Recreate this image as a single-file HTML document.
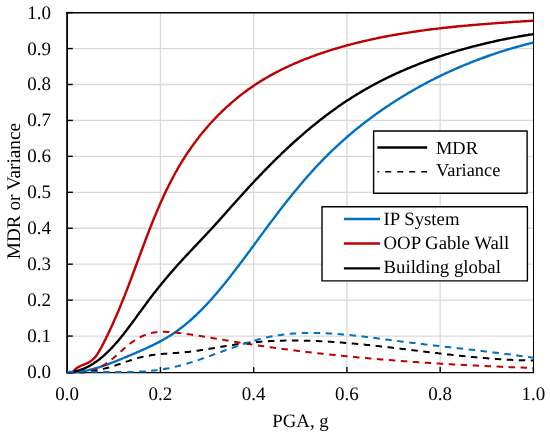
<!DOCTYPE html>
<html><head><meta charset="utf-8"><style>
html,body{margin:0;padding:0;background:#fff;}
body{width:550px;height:437px;overflow:hidden;}
svg{display:block;}
text{text-rendering:geometricPrecision;font-family:"Liberation Serif","Times New Roman",serif;font-size:18.8px;fill:#000;}
.tk{font-size:19px;}
.l1{font-size:18.4px;}
</style></head><body>
<svg width="550" height="437" viewBox="0 0 550 437">
<rect width="550" height="437" fill="#fff"/>
<g stroke="#d9d9d9" stroke-width="1.3" fill="none">
<line x1="67.2" y1="336.06" x2="533.4" y2="336.06"/>
<line x1="67.2" y1="300.12" x2="533.4" y2="300.12"/>
<line x1="67.2" y1="264.18" x2="533.4" y2="264.18"/>
<line x1="67.2" y1="228.24" x2="533.4" y2="228.24"/>
<line x1="67.2" y1="192.30" x2="533.4" y2="192.30"/>
<line x1="67.2" y1="156.36" x2="533.4" y2="156.36"/>
<line x1="67.2" y1="120.42" x2="533.4" y2="120.42"/>
<line x1="67.2" y1="84.48" x2="533.4" y2="84.48"/>
<line x1="67.2" y1="48.54" x2="533.4" y2="48.54"/>
<line x1="160.44" y1="12.6" x2="160.44" y2="372.0"/>
<line x1="253.68" y1="12.6" x2="253.68" y2="372.0"/>
<line x1="346.92" y1="12.6" x2="346.92" y2="372.0"/>
<line x1="440.16" y1="12.6" x2="440.16" y2="372.0"/>
</g>

<g stroke="#000" stroke-width="1.6" fill="none">
<line x1="66.19999999999999" y1="12.7" x2="534.0" y2="12.7" stroke-width="1.5"/>
<line x1="533.5" y1="11.95" x2="533.5" y2="373.20000000000005" stroke-width="1.0"/>
<line x1="67.1" y1="11.95" x2="67.1" y2="373.20000000000005" stroke-width="1.8"/>
<line x1="66.19999999999999" y1="372.6" x2="534.0" y2="372.6" stroke-width="1.3"/>
<line x1="67.1" y1="372.00" x2="72.8" y2="372.00" stroke-width="1.4"/>
<line x1="67.1" y1="336.06" x2="72.8" y2="336.06" stroke-width="1.4"/>
<line x1="67.1" y1="300.12" x2="72.8" y2="300.12" stroke-width="1.4"/>
<line x1="67.1" y1="264.18" x2="72.8" y2="264.18" stroke-width="1.4"/>
<line x1="67.1" y1="228.24" x2="72.8" y2="228.24" stroke-width="1.4"/>
<line x1="67.1" y1="192.30" x2="72.8" y2="192.30" stroke-width="1.4"/>
<line x1="67.1" y1="156.36" x2="72.8" y2="156.36" stroke-width="1.4"/>
<line x1="67.1" y1="120.42" x2="72.8" y2="120.42" stroke-width="1.4"/>
<line x1="67.1" y1="84.48" x2="72.8" y2="84.48" stroke-width="1.4"/>
<line x1="67.1" y1="48.54" x2="72.8" y2="48.54" stroke-width="1.4"/>
<line x1="67.1" y1="12.60" x2="72.8" y2="12.60" stroke-width="1.4"/>
<line x1="67.20" y1="372.6" x2="67.20" y2="367.1" stroke-width="1.4"/>
<line x1="160.44" y1="372.6" x2="160.44" y2="367.1" stroke-width="1.4"/>
<line x1="253.68" y1="372.6" x2="253.68" y2="367.1" stroke-width="1.4"/>
<line x1="346.92" y1="372.6" x2="346.92" y2="367.1" stroke-width="1.4"/>
<line x1="440.16" y1="372.6" x2="440.16" y2="367.1" stroke-width="1.4"/>
<line x1="533.40" y1="372.6" x2="533.40" y2="367.1" stroke-width="1.4"/>
</g>
<g fill="none" stroke-linejoin="round">
<path d="M67.2 372.2 L68.7 372.2 L70.2 372.2 L71.7 372.2 L73.2 372.2 L74.7 372.2 L76.1 372.1 L77.6 372.0 L79.1 371.8 L80.5 371.6 L82.0 371.4 L83.4 371.1 L84.8 370.9 L86.3 370.6 L87.7 370.3 L89.1 369.9 L90.5 369.6 L92.0 369.3 L93.4 368.9 L94.8 368.5 L96.2 368.1 L97.6 367.7 L99.0 367.3 L100.4 366.8 L101.7 366.4 L103.1 365.9 L104.5 365.4 L105.9 365.0 L107.3 364.5 L108.7 364.0 L110.0 363.4 L111.4 362.9 L112.8 362.4 L114.1 361.9 L115.5 361.3 L116.9 360.8 L118.3 360.2 L119.6 359.7 L121.0 359.1 L122.4 358.5 L123.7 358.0 L125.1 357.4 L126.5 356.8 L127.8 356.2 L129.2 355.7 L130.6 355.1 L131.9 354.5 L133.3 353.9 L134.7 353.4 L136.0 352.8 L137.4 352.2 L138.8 351.6 L140.1 351.0 L141.5 350.4 L142.9 349.8 L144.2 349.2 L145.6 348.6 L146.9 348.0 L148.3 347.3 L149.6 346.7 L150.9 346.1 L152.3 345.4 L153.6 344.8 L154.9 344.1 L156.2 343.4 L157.6 342.8 L158.9 342.1 L160.2 341.4 L161.5 340.7 L162.7 340.0 L164.0 339.2 L165.3 338.5 L166.6 337.8 L167.8 337.0 L169.1 336.2 L170.3 335.4 L171.5 334.7 L172.8 333.9 L174.0 333.0 L175.2 332.2 L176.4 331.4 L177.6 330.5 L178.8 329.7 L179.9 328.8 L181.1 327.9 L182.3 327.0 L183.4 326.1 L184.6 325.2 L185.7 324.3 L186.8 323.3 L187.9 322.4 L189.1 321.4 L190.2 320.5 L191.3 319.5 L192.4 318.5 L193.4 317.5 L194.5 316.5 L195.6 315.5 L196.7 314.5 L197.7 313.5 L198.8 312.5 L199.8 311.4 L200.9 310.4 L201.9 309.4 L202.9 308.3 L204.0 307.2 L205.0 306.2 L206.0 305.1 L207.0 304.0 L208.0 302.9 L209.0 301.9 L210.0 300.8 L211.0 299.7 L212.0 298.6 L213.0 297.5 L213.9 296.3 L214.9 295.2 L215.9 294.1 L216.8 293.0 L217.8 291.9 L218.7 290.7 L219.7 289.6 L220.6 288.5 L221.6 287.3 L222.5 286.2 L223.5 285.0 L224.4 283.9 L225.3 282.7 L226.2 281.6 L227.2 280.4 L228.1 279.3 L229.0 278.1 L229.9 277.0 L230.8 275.8 L231.7 274.6 L232.6 273.5 L233.5 272.3 L234.4 271.1 L235.3 270.0 L236.2 268.8 L237.1 267.6 L238.0 266.5 L238.9 265.3 L239.8 264.1 L240.7 262.9 L241.6 261.7 L242.5 260.6 L243.3 259.4 L244.2 258.2 L245.1 257.0 L246.0 255.8 L246.9 254.7 L247.7 253.5 L248.6 252.3 L249.5 251.1 L250.4 249.9 L251.2 248.7 L252.1 247.5 L253.0 246.3 L253.9 245.2 L254.7 244.0 L255.6 242.8 L256.5 241.6 L257.3 240.4 L258.2 239.2 L259.1 238.0 L260.0 236.8 L260.8 235.6 L261.7 234.4 L262.6 233.3 L263.5 232.1 L264.3 230.9 L265.2 229.7 L266.1 228.5 L267.0 227.3 L267.9 226.1 L268.7 225.0 L269.6 223.8 L270.5 222.6 L271.4 221.4 L272.3 220.2 L273.2 219.0 L274.1 217.9 L275.0 216.7 L275.9 215.5 L276.7 214.3 L277.6 213.2 L278.5 212.0 L279.4 210.8 L280.3 209.6 L281.2 208.5 L282.1 207.3 L283.1 206.1 L284.0 205.0 L284.9 203.8 L285.8 202.6 L286.7 201.5 L287.6 200.3 L288.5 199.2 L289.5 198.0 L290.4 196.9 L291.3 195.7 L292.2 194.6 L293.2 193.4 L294.1 192.3 L295.0 191.1 L296.0 190.0 L296.9 188.9 L297.9 187.7 L298.8 186.6 L299.8 185.5 L300.7 184.3 L301.7 183.2 L302.6 182.1 L303.6 181.0 L304.5 179.8 L305.5 178.7 L306.5 177.6 L307.4 176.5 L308.4 175.4 L309.4 174.3 L310.4 173.2 L311.4 172.1 L312.4 171.0 L313.4 169.9 L314.3 168.8 L315.3 167.7 L316.3 166.7 L317.4 165.6 L318.4 164.5 L319.4 163.4 L320.4 162.4 L321.4 161.3 L322.4 160.3 L323.5 159.2 L324.5 158.1 L325.5 157.1 L326.6 156.1 L327.6 155.0 L328.7 154.0 L329.7 152.9 L330.8 151.9 L331.8 150.9 L332.9 149.9 L334.0 148.9 L335.1 147.8 L336.1 146.8 L337.2 145.8 L338.3 144.8 L339.4 143.8 L340.5 142.8 L341.6 141.9 L342.7 140.9 L343.8 139.9 L344.9 138.9 L346.0 137.9 L347.1 137.0 L348.2 136.0 L349.3 135.0 L350.5 134.1 L351.6 133.1 L352.7 132.2 L353.9 131.2 L355.0 130.3 L356.1 129.4 L357.3 128.4 L358.4 127.5 L359.6 126.6 L360.7 125.7 L361.9 124.8 L363.1 123.8 L364.2 122.9 L365.4 122.0 L366.6 121.1 L367.7 120.2 L368.9 119.4 L370.1 118.5 L371.3 117.6 L372.5 116.7 L373.7 115.8 L374.9 115.0 L376.0 114.1 L377.2 113.2 L378.4 112.4 L379.7 111.5 L380.9 110.7 L382.1 109.8 L383.3 109.0 L384.5 108.2 L385.7 107.3 L386.9 106.5 L388.2 105.7 L389.4 104.9 L390.6 104.1 L391.9 103.3 L393.1 102.5 L394.3 101.7 L395.6 100.9 L396.8 100.1 L398.1 99.3 L399.3 98.5 L400.6 97.7 L401.8 96.9 L403.1 96.2 L404.3 95.4 L405.6 94.7 L406.9 93.9 L408.1 93.1 L409.4 92.4 L410.7 91.7 L411.9 90.9 L413.2 90.2 L414.5 89.5 L415.8 88.7 L417.1 88.0 L418.4 87.3 L419.6 86.6 L420.9 85.9 L422.2 85.2 L423.5 84.5 L424.8 83.8 L426.1 83.1 L427.4 82.4 L428.7 81.7 L430.0 81.0 L431.3 80.4 L432.7 79.7 L434.0 79.0 L435.3 78.4 L436.6 77.7 L437.9 77.1 L439.2 76.4 L440.6 75.8 L441.9 75.1 L443.2 74.5 L444.6 73.9 L445.9 73.2 L447.2 72.6 L448.6 72.0 L449.9 71.4 L451.2 70.8 L452.6 70.2 L453.9 69.6 L455.3 69.0 L456.6 68.4 L458.0 67.8 L459.3 67.2 L460.7 66.6 L462.0 66.1 L463.4 65.5 L464.8 64.9 L466.1 64.4 L467.5 63.8 L468.9 63.3 L470.2 62.7 L471.6 62.2 L473.0 61.6 L474.3 61.1 L475.7 60.6 L477.1 60.0 L478.5 59.5 L479.9 59.0 L481.2 58.5 L482.6 58.0 L484.0 57.5 L485.4 57.0 L486.8 56.5 L488.2 56.0 L489.6 55.5 L491.0 55.0 L492.3 54.5 L493.7 54.1 L495.1 53.6 L496.5 53.1 L497.9 52.7 L499.3 52.2 L500.7 51.7 L502.1 51.3 L503.6 50.9 L505.0 50.4 L506.4 50.0 L507.8 49.5 L509.2 49.1 L510.6 48.7 L512.0 48.3 L513.4 47.9 L514.9 47.5 L516.3 47.0 L517.7 46.6 L519.1 46.3 L520.5 45.9 L522.0 45.5 L523.4 45.1 L524.8 44.7 L526.2 44.3 L527.7 44.0 L529.1 43.6 L530.5 43.2 L532.0 42.9 L533.4 42.5" stroke="#0070c0" stroke-width="2.4"/>
<path d="M72.9 372.2 L73.8 370.9 L74.9 369.7 L76.1 368.6 L77.3 367.7 L78.7 366.9 L80.1 366.2 L81.6 365.5 L83.1 364.9 L84.6 364.3 L86.1 363.7 L87.5 363.1 L88.9 362.3 L90.3 361.5 L91.5 360.6 L92.7 359.6 L93.8 358.5 L94.9 357.4 L95.9 356.2 L96.8 354.9 L97.7 353.6 L98.6 352.2 L99.4 350.8 L100.2 349.4 L101.0 348.0 L101.8 346.6 L102.5 345.1 L103.3 343.6 L104.0 342.2 L104.7 340.7 L105.5 339.3 L106.2 337.8 L106.9 336.4 L107.6 334.9 L108.3 333.5 L109.0 332.0 L109.7 330.6 L110.3 329.1 L111.0 327.7 L111.7 326.2 L112.4 324.8 L113.0 323.3 L113.7 321.9 L114.3 320.4 L114.9 318.9 L115.6 317.5 L116.2 316.0 L116.8 314.6 L117.5 313.1 L118.1 311.7 L118.7 310.2 L119.3 308.7 L119.9 307.3 L120.5 305.8 L121.1 304.4 L121.7 302.9 L122.3 301.4 L122.9 300.0 L123.5 298.5 L124.1 297.0 L124.7 295.6 L125.2 294.1 L125.8 292.6 L126.4 291.1 L127.0 289.7 L127.5 288.2 L128.1 286.7 L128.7 285.2 L129.2 283.7 L129.8 282.2 L130.4 280.7 L130.9 279.3 L131.5 277.8 L132.0 276.3 L132.6 274.8 L133.2 273.3 L133.7 271.8 L134.3 270.3 L134.8 268.8 L135.4 267.3 L135.9 265.8 L136.5 264.3 L137.0 262.8 L137.6 261.3 L138.2 259.8 L138.7 258.3 L139.3 256.8 L139.8 255.3 L140.4 253.8 L140.9 252.3 L141.5 250.8 L142.1 249.3 L142.6 247.8 L143.2 246.3 L143.7 244.8 L144.3 243.3 L144.9 241.8 L145.4 240.3 L146.0 238.8 L146.6 237.3 L147.1 235.8 L147.7 234.3 L148.3 232.8 L148.9 231.3 L149.5 229.8 L150.0 228.3 L150.6 226.8 L151.2 225.3 L151.8 223.8 L152.4 222.3 L153.0 220.8 L153.6 219.3 L154.2 217.8 L154.8 216.4 L155.4 214.9 L156.1 213.4 L156.7 211.9 L157.3 210.4 L157.9 209.0 L158.6 207.5 L159.2 206.0 L159.8 204.6 L160.5 203.1 L161.1 201.6 L161.8 200.2 L162.5 198.7 L163.1 197.3 L163.8 195.8 L164.5 194.4 L165.1 192.9 L165.8 191.5 L166.5 190.0 L167.2 188.6 L167.9 187.2 L168.6 185.7 L169.3 184.3 L170.1 182.9 L170.8 181.5 L171.5 180.1 L172.3 178.6 L173.0 177.2 L173.8 175.8 L174.5 174.4 L175.3 173.0 L176.1 171.6 L176.9 170.3 L177.6 168.9 L178.4 167.5 L179.2 166.1 L180.0 164.7 L180.9 163.4 L181.7 162.0 L182.5 160.7 L183.4 159.3 L184.2 158.0 L185.1 156.6 L185.9 155.3 L186.8 153.9 L187.7 152.6 L188.6 151.3 L189.5 150.0 L190.4 148.7 L191.3 147.4 L192.2 146.1 L193.2 144.8 L194.1 143.5 L195.1 142.2 L196.0 140.9 L197.0 139.6 L198.0 138.4 L198.9 137.1 L199.9 135.8 L200.9 134.6 L201.9 133.4 L202.9 132.1 L204.0 130.9 L205.0 129.7 L206.0 128.5 L207.1 127.2 L208.1 126.0 L209.2 124.8 L210.2 123.6 L211.3 122.5 L212.4 121.3 L213.5 120.1 L214.6 119.0 L215.7 117.8 L216.8 116.7 L217.9 115.5 L219.0 114.4 L220.2 113.3 L221.3 112.1 L222.4 111.0 L223.6 109.9 L224.8 108.8 L225.9 107.7 L227.1 106.7 L228.3 105.6 L229.5 104.5 L230.7 103.5 L231.9 102.4 L233.1 101.4 L234.3 100.4 L235.5 99.3 L236.7 98.3 L238.0 97.3 L239.2 96.3 L240.5 95.3 L241.7 94.4 L243.0 93.4 L244.3 92.4 L245.6 91.5 L246.8 90.5 L248.1 89.6 L249.4 88.7 L250.7 87.8 L252.0 86.9 L253.4 86.0 L254.7 85.1 L256.0 84.2 L257.3 83.3 L258.7 82.5 L260.0 81.6 L261.4 80.8 L262.7 79.9 L264.1 79.1 L265.5 78.3 L266.9 77.5 L268.2 76.7 L269.6 75.9 L271.0 75.1 L272.4 74.4 L273.8 73.6 L275.2 72.9 L276.6 72.1 L278.1 71.4 L279.5 70.7 L280.9 69.9 L282.3 69.2 L283.8 68.5 L285.2 67.8 L286.7 67.1 L288.1 66.5 L289.6 65.8 L291.0 65.1 L292.5 64.5 L293.9 63.8 L295.4 63.2 L296.9 62.6 L298.4 61.9 L299.8 61.3 L301.3 60.7 L302.8 60.1 L304.3 59.5 L305.8 58.9 L307.3 58.3 L308.8 57.8 L310.3 57.2 L311.8 56.6 L313.3 56.1 L314.8 55.5 L316.3 55.0 L317.8 54.4 L319.4 53.9 L320.9 53.4 L322.4 52.9 L323.9 52.4 L325.4 51.9 L327.0 51.4 L328.5 50.9 L330.0 50.4 L331.6 49.9 L333.1 49.4 L334.6 49.0 L336.2 48.5 L337.7 48.1 L339.2 47.6 L340.8 47.2 L342.3 46.7 L343.9 46.3 L345.4 45.9 L346.9 45.4 L348.5 45.0 L350.0 44.6 L351.6 44.2 L353.1 43.8 L354.7 43.4 L356.2 43.0 L357.8 42.6 L359.3 42.2 L360.9 41.9 L362.4 41.5 L364.0 41.1 L365.5 40.8 L367.1 40.4 L368.6 40.1 L370.2 39.7 L371.8 39.4 L373.3 39.0 L374.9 38.7 L376.4 38.4 L378.0 38.0 L379.6 37.7 L381.1 37.4 L382.7 37.1 L384.2 36.8 L385.8 36.5 L387.4 36.2 L388.9 35.9 L390.5 35.6 L392.1 35.3 L393.6 35.0 L395.2 34.8 L396.8 34.5 L398.4 34.2 L399.9 33.9 L401.5 33.7 L403.1 33.4 L404.6 33.2 L406.2 32.9 L407.8 32.7 L409.4 32.4 L410.9 32.2 L412.5 31.9 L414.1 31.7 L415.7 31.5 L417.2 31.2 L418.8 31.0 L420.4 30.8 L422.0 30.6 L423.6 30.4 L425.1 30.1 L426.7 29.9 L428.3 29.7 L429.9 29.5 L431.5 29.3 L433.1 29.1 L434.6 28.9 L436.2 28.8 L437.8 28.6 L439.4 28.4 L441.0 28.2 L442.6 28.0 L444.2 27.8 L445.7 27.7 L447.3 27.5 L448.9 27.3 L450.5 27.2 L452.1 27.0 L453.7 26.8 L455.3 26.7 L456.9 26.5 L458.4 26.3 L460.0 26.2 L461.6 26.0 L463.2 25.9 L464.8 25.7 L466.4 25.6 L468.0 25.5 L469.6 25.3 L471.2 25.2 L472.8 25.0 L474.4 24.9 L476.0 24.8 L477.6 24.6 L479.1 24.5 L480.7 24.4 L482.3 24.2 L483.9 24.1 L485.5 24.0 L487.1 23.9 L488.7 23.7 L490.3 23.6 L491.9 23.5 L493.5 23.4 L495.1 23.3 L496.7 23.1 L498.3 23.0 L499.9 22.9 L501.5 22.8 L503.1 22.7 L504.7 22.6 L506.3 22.5 L507.9 22.4 L509.5 22.2 L511.1 22.1 L512.7 22.0 L514.3 21.9 L515.9 21.8 L517.5 21.7 L519.1 21.6 L520.7 21.5 L522.3 21.4 L523.8 21.3 L525.4 21.2 L527.0 21.1 L528.6 21.0 L530.2 20.9 L531.8 20.8 L533.4 20.7" stroke="#c00000" stroke-width="2.4"/>
<path d="M67.1 372.2 L68.7 372.2 L70.3 372.2 L71.8 372.2 L73.3 371.9 L74.8 371.6 L76.3 371.2 L77.7 370.8 L79.1 370.4 L80.5 369.9 L81.9 369.4 L83.3 368.9 L84.6 368.3 L86.0 367.7 L87.3 367.0 L88.6 366.4 L89.8 365.7 L91.1 364.9 L92.3 364.2 L93.6 363.4 L94.8 362.6 L96.0 361.8 L97.2 360.9 L98.3 360.1 L99.5 359.2 L100.6 358.3 L101.8 357.3 L102.9 356.4 L104.0 355.4 L105.1 354.4 L106.2 353.4 L107.2 352.4 L108.3 351.4 L109.3 350.3 L110.4 349.3 L111.4 348.2 L112.4 347.1 L113.4 346.0 L114.4 345.0 L115.4 343.8 L116.4 342.7 L117.4 341.6 L118.4 340.5 L119.3 339.3 L120.3 338.2 L121.2 337.0 L122.2 335.8 L123.1 334.7 L124.0 333.5 L125.0 332.3 L125.9 331.1 L126.8 329.9 L127.7 328.7 L128.6 327.5 L129.5 326.3 L130.4 325.1 L131.3 323.9 L132.2 322.7 L133.1 321.5 L134.0 320.3 L134.9 319.1 L135.8 317.9 L136.6 316.6 L137.5 315.4 L138.4 314.2 L139.3 313.0 L140.2 311.8 L141.1 310.6 L141.9 309.4 L142.8 308.2 L143.7 307.0 L144.6 305.8 L145.5 304.6 L146.4 303.4 L147.2 302.2 L148.1 301.0 L149.0 299.8 L149.9 298.6 L150.8 297.4 L151.7 296.3 L152.6 295.1 L153.5 293.9 L154.4 292.7 L155.4 291.6 L156.3 290.4 L157.2 289.2 L158.1 288.1 L159.0 286.9 L160.0 285.8 L160.9 284.6 L161.8 283.5 L162.8 282.3 L163.7 281.2 L164.7 280.0 L165.6 278.9 L166.6 277.8 L167.5 276.6 L168.5 275.5 L169.5 274.4 L170.4 273.2 L171.4 272.1 L172.4 271.0 L173.4 269.9 L174.3 268.8 L175.3 267.7 L176.3 266.5 L177.3 265.4 L178.3 264.3 L179.3 263.2 L180.3 262.1 L181.3 261.0 L182.3 259.9 L183.3 258.8 L184.3 257.7 L185.3 256.6 L186.3 255.5 L187.4 254.5 L188.4 253.4 L189.4 252.3 L190.4 251.2 L191.5 250.1 L192.5 249.0 L193.5 247.9 L194.5 246.8 L195.5 245.8 L196.6 244.7 L197.6 243.6 L198.6 242.5 L199.7 241.4 L200.7 240.3 L201.7 239.2 L202.7 238.2 L203.7 237.1 L204.8 236.0 L205.8 234.9 L206.8 233.8 L207.8 232.7 L208.8 231.6 L209.9 230.5 L210.9 229.4 L211.9 228.3 L212.9 227.2 L213.9 226.1 L214.9 225.0 L215.9 223.9 L216.9 222.8 L217.9 221.7 L218.9 220.6 L219.9 219.5 L220.9 218.4 L221.9 217.3 L222.8 216.2 L223.8 215.1 L224.8 214.0 L225.8 212.9 L226.8 211.7 L227.8 210.6 L228.8 209.5 L229.8 208.4 L230.7 207.3 L231.7 206.2 L232.7 205.1 L233.7 204.0 L234.7 202.9 L235.7 201.7 L236.7 200.6 L237.7 199.5 L238.7 198.4 L239.7 197.3 L240.7 196.2 L241.7 195.1 L242.7 194.0 L243.7 192.9 L244.7 191.8 L245.7 190.7 L246.7 189.6 L247.7 188.5 L248.7 187.4 L249.7 186.3 L250.7 185.2 L251.7 184.1 L252.8 183.0 L253.8 181.9 L254.8 180.8 L255.8 179.7 L256.8 178.7 L257.9 177.6 L258.9 176.5 L259.9 175.4 L261.0 174.3 L262.0 173.3 L263.0 172.2 L264.1 171.1 L265.1 170.0 L266.2 169.0 L267.2 167.9 L268.3 166.8 L269.3 165.8 L270.4 164.7 L271.4 163.7 L272.5 162.6 L273.5 161.5 L274.6 160.5 L275.7 159.4 L276.7 158.4 L277.8 157.4 L278.9 156.3 L280.0 155.3 L281.0 154.2 L282.1 153.2 L283.2 152.2 L284.3 151.1 L285.4 150.1 L286.4 149.1 L287.5 148.1 L288.6 147.1 L289.7 146.0 L290.8 145.0 L291.9 144.0 L293.0 143.0 L294.1 142.0 L295.2 141.0 L296.4 140.0 L297.5 139.0 L298.6 138.0 L299.7 137.1 L300.8 136.1 L302.0 135.1 L303.1 134.1 L304.2 133.1 L305.3 132.2 L306.5 131.2 L307.6 130.2 L308.8 129.3 L309.9 128.3 L311.0 127.4 L312.2 126.4 L313.3 125.5 L314.5 124.6 L315.7 123.6 L316.8 122.7 L318.0 121.8 L319.1 120.8 L320.3 119.9 L321.5 119.0 L322.7 118.1 L323.8 117.2 L325.0 116.3 L326.2 115.4 L327.4 114.5 L328.6 113.6 L329.8 112.7 L331.0 111.8 L332.2 111.0 L333.4 110.1 L334.6 109.2 L335.8 108.4 L337.0 107.5 L338.2 106.6 L339.4 105.8 L340.7 104.9 L341.9 104.1 L343.1 103.3 L344.3 102.4 L345.6 101.6 L346.8 100.8 L348.1 100.0 L349.3 99.2 L350.5 98.4 L351.8 97.6 L353.1 96.8 L354.3 96.0 L355.6 95.2 L356.8 94.4 L358.1 93.7 L359.4 92.9 L360.7 92.1 L361.9 91.4 L363.2 90.6 L364.5 89.9 L365.8 89.1 L367.1 88.4 L368.4 87.7 L369.7 86.9 L371.0 86.2 L372.3 85.5 L373.6 84.8 L374.9 84.1 L376.2 83.4 L377.5 82.7 L378.8 82.0 L380.2 81.3 L381.5 80.7 L382.8 80.0 L384.1 79.3 L385.5 78.7 L386.8 78.0 L388.2 77.3 L389.5 76.7 L390.8 76.1 L392.2 75.4 L393.5 74.8 L394.9 74.2 L396.2 73.5 L397.6 72.9 L399.0 72.3 L400.3 71.7 L401.7 71.1 L403.1 70.5 L404.4 69.9 L405.8 69.3 L407.2 68.7 L408.5 68.1 L409.9 67.6 L411.3 67.0 L412.7 66.4 L414.1 65.9 L415.5 65.3 L416.8 64.8 L418.2 64.2 L419.6 63.7 L421.0 63.1 L422.4 62.6 L423.8 62.1 L425.2 61.5 L426.6 61.0 L428.0 60.5 L429.4 60.0 L430.8 59.5 L432.2 59.0 L433.7 58.5 L435.1 58.0 L436.5 57.5 L437.9 57.0 L439.3 56.5 L440.7 56.1 L442.2 55.6 L443.6 55.1 L445.0 54.7 L446.4 54.2 L447.8 53.8 L449.3 53.3 L450.7 52.9 L452.1 52.4 L453.6 52.0 L455.0 51.6 L456.4 51.1 L457.9 50.7 L459.3 50.3 L460.7 49.9 L462.2 49.5 L463.6 49.1 L465.1 48.7 L466.5 48.3 L467.9 47.9 L469.4 47.5 L470.8 47.1 L472.3 46.7 L473.7 46.3 L475.2 46.0 L476.6 45.6 L478.0 45.2 L479.5 44.9 L480.9 44.5 L482.4 44.2 L483.8 43.8 L485.3 43.5 L486.7 43.1 L488.2 42.8 L489.6 42.4 L491.1 42.1 L492.5 41.8 L494.0 41.5 L495.4 41.1 L496.9 40.8 L498.4 40.5 L499.8 40.2 L501.3 39.9 L502.7 39.6 L504.2 39.3 L505.6 39.0 L507.1 38.7 L508.5 38.4 L510.0 38.2 L511.4 37.9 L512.9 37.6 L514.3 37.3 L515.8 37.1 L517.2 36.8 L518.7 36.5 L520.2 36.3 L521.6 36.0 L523.1 35.8 L524.5 35.5 L526.0 35.3 L527.4 35.1 L528.9 34.8 L530.3 34.6 L531.8 34.4 L533.2 34.1" stroke="#000000" stroke-width="2.4"/>
<path d="M66.9 371.7 L68.3 372.0 L69.6 372.2 L70.9 372.2 L72.2 372.2 L73.5 372.2 L74.8 372.2 L76.1 372.2 L77.4 372.2 L78.6 372.2 L79.8 372.2 L81.1 372.2 L82.3 372.2 L83.5 372.2 L84.6 372.2 L85.8 372.2 L87.0 372.1 L88.1 371.8 L89.3 371.6 L90.4 371.2 L91.5 370.9 L92.6 370.5 L93.7 370.1 L94.8 369.7 L95.9 369.3 L96.9 368.8 L98.0 368.3 L99.0 367.8 L100.1 367.3 L101.1 366.7 L102.1 366.1 L103.1 365.5 L104.2 364.9 L105.1 364.3 L106.1 363.6 L107.1 362.9 L108.1 362.2 L109.1 361.5 L110.0 360.8 L111.0 360.1 L111.9 359.3 L112.9 358.5 L113.8 357.7 L114.7 356.9 L115.6 356.1 L116.6 355.3 L117.5 354.5 L118.4 353.7 L119.3 352.9 L120.2 352.1 L121.1 351.2 L122.1 350.4 L123.0 349.6 L123.9 348.8 L124.8 348.0 L125.8 347.2 L126.7 346.4 L127.6 345.6 L128.6 344.8 L129.5 344.1 L130.5 343.3 L131.4 342.6 L132.4 341.9 L133.4 341.2 L134.4 340.6 L135.4 339.9 L136.4 339.3 L137.4 338.7 L138.4 338.1 L139.5 337.5 L140.5 337.0 L141.6 336.5 L142.6 336.0 L143.7 335.5 L144.7 335.1 L145.8 334.7 L146.9 334.3 L148.0 333.9 L149.1 333.6 L150.2 333.3 L151.4 333.0 L152.5 332.8 L153.6 332.5 L154.8 332.4 L155.9 332.2 L157.1 332.1 L158.3 332.0 L159.5 331.9 L160.6 331.8 L161.8 331.8 L163.0 331.8 L164.2 331.8 L165.4 331.8 L166.6 331.9 L167.8 331.9 L169.0 332.0 L170.2 332.1 L171.5 332.2 L172.7 332.3 L173.9 332.4 L175.1 332.5 L176.3 332.6 L177.5 332.8 L178.7 332.9 L179.9 333.1 L181.2 333.2 L182.4 333.4 L183.6 333.5 L184.8 333.7 L186.0 333.8 L187.2 334.0 L188.4 334.2 L189.6 334.3 L190.8 334.5 L192.0 334.7 L193.2 334.9 L194.4 335.0 L195.6 335.2 L196.8 335.4 L198.0 335.6 L199.2 335.8 L200.3 336.0 L201.5 336.2 L202.7 336.4 L203.9 336.6 L205.1 336.8 L206.3 337.0 L207.5 337.2 L208.7 337.4 L209.9 337.6 L211.1 337.8 L212.2 338.0 L213.4 338.2 L214.6 338.4 L215.8 338.6 L217.0 338.8 L218.2 339.0 L219.4 339.2 L220.6 339.4 L221.8 339.6 L222.9 339.8 L224.1 340.0 L225.3 340.2 L226.5 340.4 L227.7 340.6 L228.9 340.8 L230.1 341.0 L231.3 341.2 L232.4 341.4 L233.6 341.6 L234.8 341.8 L236.0 342.0 L237.2 342.2 L238.4 342.4 L239.6 342.6 L240.8 342.8 L242.0 343.0 L243.2 343.2 L244.3 343.3 L245.5 343.5 L246.7 343.7 L247.9 343.9 L249.1 344.1 L250.3 344.3 L251.5 344.4 L252.7 344.6 L253.9 344.8 L255.1 345.0 L256.2 345.2 L257.4 345.3 L258.6 345.5 L259.8 345.7 L261.0 345.9 L262.2 346.0 L263.4 346.2 L264.6 346.4 L265.8 346.6 L267.0 346.7 L268.2 346.9 L269.4 347.1 L270.5 347.2 L271.7 347.4 L272.9 347.6 L274.1 347.7 L275.3 347.9 L276.5 348.1 L277.7 348.2 L278.9 348.4 L280.1 348.5 L281.3 348.7 L282.5 348.9 L283.7 349.0 L284.9 349.2 L286.1 349.3 L287.3 349.5 L288.5 349.7 L289.6 349.8 L290.8 350.0 L292.0 350.1 L293.2 350.3 L294.4 350.4 L295.6 350.6 L296.8 350.7 L298.0 350.9 L299.2 351.0 L300.4 351.2 L301.6 351.3 L302.8 351.5 L304.0 351.6 L305.2 351.7 L306.4 351.9 L307.6 352.0 L308.8 352.2 L310.0 352.3 L311.2 352.4 L312.4 352.6 L313.6 352.7 L314.7 352.9 L315.9 353.0 L317.1 353.1 L318.3 353.3 L319.5 353.4 L320.7 353.5 L321.9 353.7 L323.1 353.8 L324.3 353.9 L325.5 354.1 L326.7 354.2 L327.9 354.3 L329.1 354.5 L330.3 354.6 L331.5 354.7 L332.7 354.8 L333.9 355.0 L335.1 355.1 L336.3 355.2 L337.5 355.3 L338.7 355.5 L339.9 355.6 L341.1 355.7 L342.3 355.8 L343.5 356.0 L344.7 356.1 L345.9 356.2 L347.1 356.3 L348.3 356.4 L349.5 356.6 L350.7 356.7 L351.9 356.8 L353.1 356.9 L354.3 357.0 L355.5 357.1 L356.7 357.2 L357.9 357.4 L359.1 357.5 L360.3 357.6 L361.5 357.7 L362.7 357.8 L363.9 357.9 L365.1 358.0 L366.3 358.1 L367.5 358.2 L368.7 358.3 L369.9 358.4 L371.1 358.5 L372.3 358.7 L373.5 358.8 L374.7 358.9 L375.9 359.0 L377.1 359.1 L378.3 359.2 L379.5 359.3 L380.7 359.4 L381.9 359.5 L383.1 359.6 L384.3 359.7 L385.5 359.8 L386.7 359.9 L387.9 360.0 L389.1 360.1 L390.3 360.1 L391.5 360.2 L392.7 360.3 L393.9 360.4 L395.1 360.5 L396.3 360.6 L397.5 360.7 L398.7 360.8 L399.9 360.9 L401.1 361.0 L402.3 361.1 L403.5 361.2 L404.7 361.3 L405.9 361.3 L407.1 361.4 L408.3 361.5 L409.5 361.6 L410.7 361.7 L411.9 361.8 L413.1 361.9 L414.3 361.9 L415.5 362.0 L416.7 362.1 L417.9 362.2 L419.1 362.3 L420.3 362.4 L421.5 362.4 L422.7 362.5 L423.9 362.6 L425.1 362.7 L426.3 362.8 L427.5 362.8 L428.7 362.9 L429.9 363.0 L431.1 363.1 L432.3 363.1 L433.5 363.2 L434.7 363.3 L435.9 363.4 L437.1 363.4 L438.3 363.5 L439.5 363.6 L440.7 363.7 L441.9 363.7 L443.2 363.8 L444.4 363.9 L445.6 364.0 L446.8 364.0 L448.0 364.1 L449.2 364.2 L450.4 364.2 L451.6 364.3 L452.8 364.4 L454.0 364.4 L455.2 364.5 L456.4 364.6 L457.6 364.6 L458.8 364.7 L460.0 364.8 L461.2 364.8 L462.4 364.9 L463.6 365.0 L464.8 365.0 L466.0 365.1 L467.2 365.2 L468.4 365.2 L469.6 365.3 L470.8 365.3 L472.0 365.4 L473.2 365.5 L474.4 365.5 L475.6 365.6 L476.8 365.6 L478.0 365.7 L479.2 365.8 L480.4 365.8 L481.6 365.9 L482.9 365.9 L484.1 366.0 L485.3 366.0 L486.5 366.1 L487.7 366.2 L488.9 366.2 L490.1 366.3 L491.3 366.3 L492.5 366.4 L493.7 366.4 L494.9 366.5 L496.1 366.5 L497.3 366.6 L498.5 366.6 L499.7 366.7 L500.9 366.8 L502.1 366.8 L503.3 366.9 L504.5 366.9 L505.7 367.0 L506.9 367.0 L508.1 367.1 L509.3 367.1 L510.5 367.2 L511.7 367.2 L512.9 367.3 L514.1 367.3 L515.3 367.4 L516.5 367.4 L517.8 367.4 L519.0 367.5 L520.2 367.5 L521.4 367.6 L522.6 367.6 L523.8 367.7 L525.0 367.7 L526.2 367.8 L527.4 367.8 L528.6 367.9 L529.8 367.9 L531.0 367.9 L532.2 368.0 L533.4 368.0" stroke="#c00000" stroke-width="2.0" stroke-dasharray="6.5 5.5"/>
<path d="M67.2 372.1 L68.4 372.2 L69.6 372.2 L70.8 372.2 L72.0 372.2 L73.2 372.2 L74.4 372.2 L75.6 372.2 L76.8 372.2 L77.9 372.2 L79.1 372.2 L80.3 372.2 L81.5 372.2 L82.7 372.2 L83.8 372.2 L85.0 372.1 L86.2 372.0 L87.3 371.9 L88.5 371.8 L89.7 371.6 L90.8 371.4 L92.0 371.3 L93.1 371.1 L94.3 370.9 L95.4 370.7 L96.6 370.5 L97.7 370.2 L98.9 370.0 L100.0 369.7 L101.2 369.5 L102.3 369.2 L103.4 368.9 L104.6 368.6 L105.7 368.3 L106.9 368.0 L108.0 367.7 L109.1 367.4 L110.2 367.0 L111.4 366.7 L112.5 366.4 L113.6 366.0 L114.8 365.6 L115.9 365.3 L117.0 364.9 L118.1 364.5 L119.2 364.1 L120.4 363.8 L121.5 363.4 L122.6 363.0 L123.7 362.6 L124.8 362.2 L126.0 361.8 L127.1 361.4 L128.2 361.1 L129.3 360.7 L130.4 360.3 L131.6 360.0 L132.7 359.6 L133.8 359.2 L134.9 358.9 L136.1 358.6 L137.2 358.2 L138.3 357.9 L139.5 357.6 L140.6 357.3 L141.7 357.1 L142.9 356.8 L144.0 356.5 L145.2 356.3 L146.3 356.1 L147.5 355.9 L148.6 355.7 L149.8 355.5 L150.9 355.3 L152.1 355.1 L153.2 355.0 L154.4 354.8 L155.6 354.7 L156.7 354.5 L157.9 354.4 L159.0 354.3 L160.2 354.2 L161.4 354.0 L162.6 353.9 L163.7 353.8 L164.9 353.7 L166.1 353.7 L167.2 353.6 L168.4 353.5 L169.6 353.4 L170.8 353.3 L171.9 353.2 L173.1 353.1 L174.3 353.1 L175.5 353.0 L176.7 352.9 L177.8 352.8 L179.0 352.7 L180.2 352.6 L181.4 352.5 L182.6 352.4 L183.7 352.3 L184.9 352.2 L186.1 352.1 L187.3 352.0 L188.4 351.9 L189.6 351.7 L190.8 351.6 L192.0 351.5 L193.1 351.3 L194.3 351.2 L195.5 351.0 L196.7 350.8 L197.8 350.7 L199.0 350.5 L200.2 350.3 L201.3 350.1 L202.5 350.0 L203.7 349.8 L204.9 349.6 L206.0 349.4 L207.2 349.2 L208.4 349.0 L209.5 348.8 L210.7 348.6 L211.9 348.4 L213.0 348.2 L214.2 348.0 L215.4 347.8 L216.6 347.6 L217.7 347.4 L218.9 347.2 L220.1 347.0 L221.2 346.8 L222.4 346.6 L223.6 346.4 L224.7 346.2 L225.9 346.0 L227.1 345.8 L228.2 345.6 L229.4 345.4 L230.6 345.2 L231.7 345.0 L232.9 344.9 L234.1 344.7 L235.2 344.5 L236.4 344.3 L237.6 344.2 L238.7 344.0 L239.9 343.9 L241.1 343.7 L242.2 343.6 L243.4 343.4 L244.6 343.3 L245.8 343.1 L246.9 343.0 L248.1 342.9 L249.3 342.8 L250.4 342.6 L251.6 342.5 L252.8 342.4 L253.9 342.3 L255.1 342.2 L256.3 342.1 L257.4 342.0 L258.6 341.9 L259.8 341.8 L261.0 341.7 L262.1 341.6 L263.3 341.5 L264.5 341.5 L265.6 341.4 L266.8 341.3 L268.0 341.2 L269.2 341.2 L270.3 341.1 L271.5 341.1 L272.7 341.0 L273.8 341.0 L275.0 340.9 L276.2 340.9 L277.4 340.8 L278.5 340.8 L279.7 340.7 L280.9 340.7 L282.0 340.7 L283.2 340.7 L284.4 340.6 L285.6 340.6 L286.7 340.6 L287.9 340.6 L289.1 340.6 L290.2 340.6 L291.4 340.6 L292.6 340.5 L293.8 340.5 L294.9 340.6 L296.1 340.6 L297.3 340.6 L298.5 340.6 L299.6 340.6 L300.8 340.6 L302.0 340.6 L303.2 340.6 L304.3 340.7 L305.5 340.7 L306.7 340.7 L307.8 340.8 L309.0 340.8 L310.2 340.8 L311.4 340.9 L312.5 340.9 L313.7 340.9 L314.9 341.0 L316.1 341.0 L317.2 341.1 L318.4 341.1 L319.6 341.2 L320.8 341.2 L321.9 341.3 L323.1 341.4 L324.3 341.4 L325.5 341.5 L326.6 341.6 L327.8 341.6 L329.0 341.7 L330.2 341.8 L331.3 341.8 L332.5 341.9 L333.7 342.0 L334.9 342.1 L336.0 342.2 L337.2 342.2 L338.4 342.3 L339.6 342.4 L340.7 342.5 L341.9 342.6 L343.1 342.7 L344.3 342.8 L345.4 342.9 L346.6 343.0 L347.8 343.1 L349.0 343.2 L350.1 343.3 L351.3 343.4 L352.5 343.5 L353.7 343.6 L354.8 343.7 L356.0 343.8 L357.2 343.9 L358.4 344.0 L359.5 344.2 L360.7 344.3 L361.9 344.4 L363.1 344.5 L364.2 344.6 L365.4 344.7 L366.6 344.9 L367.8 345.0 L368.9 345.1 L370.1 345.2 L371.3 345.3 L372.5 345.5 L373.6 345.6 L374.8 345.7 L376.0 345.9 L377.2 346.0 L378.4 346.1 L379.5 346.2 L380.7 346.4 L381.9 346.5 L383.1 346.6 L384.2 346.8 L385.4 346.9 L386.6 347.1 L387.8 347.2 L388.9 347.3 L390.1 347.5 L391.3 347.6 L392.5 347.7 L393.6 347.9 L394.8 348.0 L396.0 348.2 L397.2 348.3 L398.3 348.4 L399.5 348.6 L400.7 348.7 L401.9 348.9 L403.0 349.0 L404.2 349.1 L405.4 349.3 L406.6 349.4 L407.8 349.6 L408.9 349.7 L410.1 349.9 L411.3 350.0 L412.5 350.2 L413.6 350.3 L414.8 350.4 L416.0 350.6 L417.2 350.7 L418.3 350.9 L419.5 351.0 L420.7 351.2 L421.9 351.3 L423.0 351.4 L424.2 351.6 L425.4 351.7 L426.6 351.9 L427.7 352.0 L428.9 352.2 L430.1 352.3 L431.3 352.4 L432.4 352.6 L433.6 352.7 L434.8 352.9 L436.0 353.0 L437.1 353.1 L438.3 353.3 L439.5 353.4 L440.7 353.6 L441.8 353.7 L443.0 353.8 L444.2 354.0 L445.4 354.1 L446.5 354.2 L447.7 354.4 L448.9 354.5 L450.1 354.6 L451.2 354.8 L452.4 354.9 L453.6 355.0 L454.8 355.2 L455.9 355.3 L457.1 355.4 L458.3 355.5 L459.5 355.7 L460.6 355.8 L461.8 355.9 L463.0 356.0 L464.2 356.2 L465.3 356.3 L466.5 356.4 L467.7 356.5 L468.9 356.6 L470.0 356.8 L471.2 356.9 L472.4 357.0 L473.6 357.1 L474.7 357.2 L475.9 357.3 L477.1 357.4 L478.2 357.5 L479.4 357.6 L480.6 357.7 L481.8 357.8 L482.9 357.9 L484.1 358.0 L485.3 358.1 L486.5 358.2 L487.6 358.3 L488.8 358.4 L490.0 358.5 L491.1 358.6 L492.3 358.7 L493.5 358.8 L494.7 358.9 L495.8 358.9 L497.0 359.0 L498.2 359.1 L499.4 359.2 L500.5 359.3 L501.7 359.3 L502.9 359.4 L504.0 359.5 L505.2 359.5 L506.4 359.6 L507.6 359.7 L508.7 359.7 L509.9 359.8 L511.1 359.8 L512.2 359.9 L513.4 359.9 L514.6 360.0 L515.8 360.0 L516.9 360.1 L518.1 360.1 L519.3 360.2 L520.4 360.2 L521.6 360.2 L522.8 360.3 L523.9 360.3 L525.1 360.3 L526.3 360.4 L527.5 360.4 L528.6 360.4 L529.8 360.4 L531.0 360.4 L532.1 360.5 L533.3 360.5" stroke="#000000" stroke-width="2.0" stroke-dasharray="6.5 5.5"/>
<path d="M67.2 371.9 L68.3 371.9 L69.5 371.8 L70.7 371.8 L71.8 371.8 L73.0 371.7 L74.2 371.7 L75.4 371.7 L76.5 371.7 L77.7 371.7 L78.9 371.7 L80.1 371.6 L81.3 371.6 L82.4 371.6 L83.6 371.6 L84.8 371.6 L86.0 371.6 L87.2 371.7 L88.4 371.7 L89.5 371.7 L90.7 371.7 L91.9 371.7 L93.1 371.7 L94.3 371.7 L95.5 371.8 L96.7 371.8 L97.9 371.8 L99.1 371.8 L100.3 371.8 L101.5 371.9 L102.7 371.9 L103.8 371.9 L105.0 371.9 L106.2 371.9 L107.4 371.9 L108.6 372.0 L109.8 372.0 L111.0 372.0 L112.2 372.0 L113.4 372.0 L114.6 372.0 L115.8 372.0 L117.0 372.1 L118.2 372.1 L119.4 372.1 L120.6 372.1 L121.8 372.1 L123.0 372.1 L124.2 372.1 L125.4 372.0 L126.6 372.0 L127.8 372.0 L129.0 372.0 L130.1 372.0 L131.3 372.0 L132.5 371.9 L133.7 371.9 L134.9 371.8 L136.1 371.8 L137.3 371.8 L138.5 371.7 L139.7 371.6 L140.8 371.6 L142.0 371.5 L143.2 371.4 L144.4 371.4 L145.6 371.3 L146.8 371.2 L147.9 371.1 L149.1 371.0 L150.3 370.9 L151.5 370.8 L152.6 370.6 L153.8 370.5 L155.0 370.4 L156.2 370.2 L157.3 370.1 L158.5 369.9 L159.7 369.8 L160.8 369.6 L162.0 369.4 L163.2 369.2 L164.3 369.0 L165.5 368.8 L166.6 368.6 L167.8 368.4 L168.9 368.2 L170.1 367.9 L171.2 367.7 L172.4 367.4 L173.5 367.2 L174.7 366.9 L175.8 366.6 L176.9 366.4 L178.1 366.1 L179.2 365.8 L180.4 365.5 L181.5 365.2 L182.6 364.9 L183.8 364.6 L184.9 364.2 L186.0 363.9 L187.2 363.6 L188.3 363.2 L189.4 362.9 L190.6 362.5 L191.7 362.2 L192.8 361.8 L193.9 361.5 L195.1 361.1 L196.2 360.7 L197.3 360.4 L198.4 360.0 L199.6 359.6 L200.7 359.2 L201.8 358.8 L202.9 358.4 L204.1 358.1 L205.2 357.7 L206.3 357.3 L207.4 356.9 L208.5 356.5 L209.7 356.1 L210.8 355.6 L211.9 355.2 L213.0 354.8 L214.1 354.4 L215.3 354.0 L216.4 353.6 L217.5 353.2 L218.6 352.8 L219.7 352.4 L220.9 352.0 L222.0 351.5 L223.1 351.1 L224.2 350.7 L225.4 350.3 L226.5 349.9 L227.6 349.5 L228.7 349.1 L229.8 348.7 L231.0 348.3 L232.1 347.9 L233.2 347.5 L234.3 347.1 L235.5 346.7 L236.6 346.3 L237.7 345.9 L238.8 345.5 L240.0 345.1 L241.1 344.7 L242.2 344.4 L243.3 344.0 L244.5 343.6 L245.6 343.3 L246.7 342.9 L247.9 342.5 L249.0 342.2 L250.1 341.8 L251.3 341.5 L252.4 341.2 L253.5 340.8 L254.7 340.5 L255.8 340.2 L256.9 339.9 L258.1 339.5 L259.2 339.2 L260.4 338.9 L261.5 338.7 L262.6 338.4 L263.8 338.1 L264.9 337.8 L266.1 337.6 L267.2 337.3 L268.4 337.1 L269.5 336.8 L270.7 336.6 L271.8 336.4 L273.0 336.2 L274.1 336.0 L275.3 335.8 L276.4 335.6 L277.6 335.4 L278.8 335.2 L279.9 335.0 L281.1 334.9 L282.2 334.7 L283.4 334.6 L284.6 334.4 L285.7 334.3 L286.9 334.2 L288.1 334.1 L289.2 333.9 L290.4 333.8 L291.6 333.7 L292.7 333.6 L293.9 333.5 L295.1 333.5 L296.2 333.4 L297.4 333.3 L298.6 333.3 L299.8 333.2 L300.9 333.1 L302.1 333.1 L303.3 333.1 L304.5 333.0 L305.6 333.0 L306.8 333.0 L308.0 333.0 L309.2 332.9 L310.4 332.9 L311.5 332.9 L312.7 332.9 L313.9 332.9 L315.1 333.0 L316.3 333.0 L317.5 333.0 L318.6 333.0 L319.8 333.0 L321.0 333.1 L322.2 333.1 L323.4 333.2 L324.6 333.2 L325.8 333.3 L327.0 333.3 L328.1 333.4 L329.3 333.4 L330.5 333.5 L331.7 333.6 L332.9 333.7 L334.1 333.7 L335.3 333.8 L336.5 333.9 L337.7 334.0 L338.8 334.1 L340.0 334.2 L341.2 334.3 L342.4 334.4 L343.6 334.5 L344.8 334.6 L346.0 334.7 L347.2 334.8 L348.4 334.9 L349.6 335.1 L350.8 335.2 L352.0 335.3 L353.2 335.4 L354.3 335.6 L355.5 335.7 L356.7 335.8 L357.9 335.9 L359.1 336.1 L360.3 336.2 L361.5 336.4 L362.7 336.5 L363.9 336.6 L365.1 336.8 L366.3 336.9 L367.5 337.1 L368.6 337.2 L369.8 337.4 L371.0 337.5 L372.2 337.7 L373.4 337.8 L374.6 338.0 L375.8 338.1 L377.0 338.3 L378.2 338.4 L379.4 338.6 L380.5 338.8 L381.7 338.9 L382.9 339.1 L384.1 339.2 L385.3 339.4 L386.5 339.5 L387.7 339.7 L388.8 339.8 L390.0 340.0 L391.2 340.2 L392.4 340.3 L393.6 340.5 L394.8 340.6 L396.0 340.8 L397.1 340.9 L398.3 341.1 L399.5 341.2 L400.7 341.4 L401.9 341.5 L403.0 341.7 L404.2 341.8 L405.4 342.0 L406.6 342.1 L407.7 342.3 L408.9 342.4 L410.1 342.6 L411.3 342.7 L412.4 342.9 L413.6 343.0 L414.8 343.1 L416.0 343.3 L417.1 343.4 L418.3 343.6 L419.5 343.7 L420.7 343.9 L421.8 344.0 L423.0 344.1 L424.2 344.3 L425.3 344.4 L426.5 344.6 L427.7 344.7 L428.9 344.8 L430.0 345.0 L431.2 345.1 L432.4 345.2 L433.5 345.4 L434.7 345.5 L435.9 345.7 L437.0 345.8 L438.2 345.9 L439.4 346.1 L440.5 346.2 L441.7 346.3 L442.9 346.5 L444.1 346.6 L445.2 346.7 L446.4 346.9 L447.6 347.0 L448.7 347.1 L449.9 347.3 L451.1 347.4 L452.2 347.5 L453.4 347.7 L454.6 347.8 L455.7 347.9 L456.9 348.1 L458.1 348.2 L459.2 348.4 L460.4 348.5 L461.6 348.6 L462.7 348.8 L463.9 348.9 L465.1 349.0 L466.2 349.2 L467.4 349.3 L468.6 349.4 L469.8 349.6 L470.9 349.7 L472.1 349.8 L473.3 350.0 L474.4 350.1 L475.6 350.3 L476.8 350.4 L477.9 350.5 L479.1 350.7 L480.3 350.8 L481.5 351.0 L482.6 351.1 L483.8 351.2 L485.0 351.4 L486.1 351.5 L487.3 351.7 L488.5 351.8 L489.7 351.9 L490.8 352.1 L492.0 352.2 L493.2 352.4 L494.4 352.5 L495.5 352.7 L496.7 352.8 L497.9 353.0 L499.1 353.1 L500.3 353.3 L501.4 353.4 L502.6 353.6 L503.8 353.7 L505.0 353.9 L506.2 354.0 L507.3 354.2 L508.5 354.3 L509.7 354.5 L510.9 354.6 L512.1 354.8 L513.3 354.9 L514.4 355.1 L515.6 355.2 L516.8 355.4 L518.0 355.6 L519.2 355.7 L520.4 355.9 L521.6 356.1 L522.8 356.2 L524.0 356.4 L525.2 356.5 L526.3 356.7 L527.5 356.9 L528.7 357.0 L529.9 357.2 L531.1 357.4 L532.3 357.6 L533.5 357.7" stroke="#0070c0" stroke-width="2.0" stroke-dasharray="6.5 5.5"/>
</g>
<g>
<text x="51" y="378.00" text-anchor="end" class="tk">0.0</text>
<text x="51" y="342.06" text-anchor="end" class="tk">0.1</text>
<text x="51" y="306.12" text-anchor="end" class="tk">0.2</text>
<text x="51" y="270.18" text-anchor="end" class="tk">0.3</text>
<text x="51" y="234.24" text-anchor="end" class="tk">0.4</text>
<text x="51" y="198.30" text-anchor="end" class="tk">0.5</text>
<text x="51" y="162.36" text-anchor="end" class="tk">0.6</text>
<text x="51" y="126.42" text-anchor="end" class="tk">0.7</text>
<text x="51" y="90.48" text-anchor="end" class="tk">0.8</text>
<text x="51" y="54.54" text-anchor="end" class="tk">0.9</text>
<text x="51" y="18.60" text-anchor="end" class="tk">1.0</text>
<text x="67.20" y="400.3" text-anchor="middle" class="tk">0.0</text>
<text x="160.44" y="400.3" text-anchor="middle" class="tk">0.2</text>
<text x="253.68" y="400.3" text-anchor="middle" class="tk">0.4</text>
<text x="346.92" y="400.3" text-anchor="middle" class="tk">0.6</text>
<text x="440.16" y="400.3" text-anchor="middle" class="tk">0.8</text>
<text x="533.40" y="400.3" text-anchor="middle" class="tk">1.0</text>
</g>
<text x="300.5" y="426.6" text-anchor="middle">PGA, g</text>
<text transform="translate(19.6,191.1) rotate(-90)" text-anchor="middle" style="font-size:19.2px">MDR or Variance</text>
<!-- legend 1 -->
<rect x="373.6" y="131" width="153.5" height="62.3" fill="#fff" stroke="#000" stroke-width="1.4" stroke-linejoin="round"/>
<line x1="377.4" y1="147.5" x2="427.1" y2="147.5" stroke="#000" stroke-width="2.5"/>
<line x1="377.4" y1="171.7" x2="427.1" y2="171.7" stroke="#000" stroke-width="1.6" stroke-dasharray="6 6" stroke-dashoffset="4.2"/>
<text x="436" y="154.3" class="l1">MDR</text>
<text x="436" y="175.5" class="l1">Variance</text>
<!-- legend 2 -->
<rect x="322" y="206.7" width="205.4" height="74.2" fill="#fff" stroke="#000" stroke-width="1.4" stroke-linejoin="round"/>
<line x1="343.9" y1="219" x2="380" y2="219" stroke="#0070c0" stroke-width="2.4"/>
<line x1="343.9" y1="243.5" x2="380" y2="243.5" stroke="#c00000" stroke-width="2.4"/>
<line x1="343.9" y1="268.4" x2="380" y2="268.4" stroke="#000" stroke-width="2.4"/>
<text x="383.5" y="224.5">IP System</text>
<text x="383.5" y="249.0">OOP Gable Wall</text>
<text x="383.5" y="273.0">Building global</text>
</svg>
</body></html>
